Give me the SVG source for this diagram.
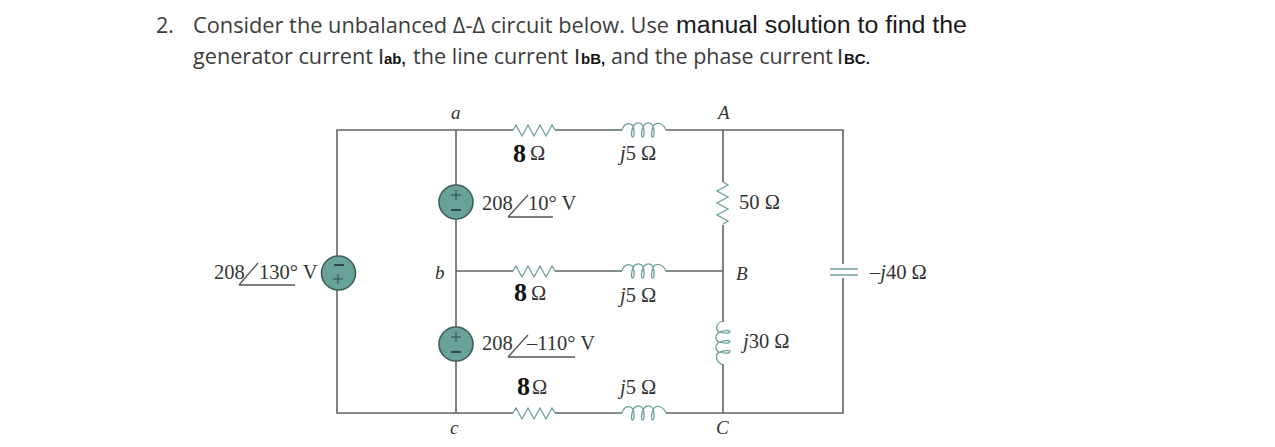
<svg xmlns="http://www.w3.org/2000/svg" width="1275" height="447" viewBox="0 0 1275 447">
<style>
.w{fill:none;stroke:#5f6566;stroke-width:1.6}
.el{fill:none;stroke:#6d9f9c;stroke-width:1.3}
.src{fill:#68a298;stroke:#3f5f5a;stroke-width:1.6}
.pm{fill:none;stroke:#2f4a46}
.ang{fill:none;stroke:#555;stroke-width:1.3}
.q{font-family:"Open Sans",sans-serif;font-size:21.5px;fill:#3c3c3c}
.b{font-family:"Liberation Sans",Arial,sans-serif;font-size:23.5px;fill:#1a1a1a}
.I{font-family:"Liberation Sans",Arial,sans-serif;font-size:22px;fill:#333}
.s{font-family:"Liberation Sans",Arial,sans-serif;font-size:15px;fill:#111;font-weight:bold}
.t{font-family:"Liberation Serif",serif;font-size:20.5px;fill:#333}
.n{font-family:"Liberation Serif",serif;font-size:19px;fill:#333;font-style:italic}
.i{font-style:italic}
.bd{font-weight:bold;font-size:26px;fill:#111}
</style>
<defs>
<path id="res" class="el" d="M0 0 L3 -5 L9 6 L15 -5 L21 6 L27 -5 L33 6 L39 -5 L42 0"/>
<path id="ind" class="el" d="M0 0 C2 -7 8 -8 11 -4 C13 2 12 7 10.500 7 C9 7 9 0 12 -5 C15 -8 19 -8 21 -4 C23 2 22 7 20.500 7 C19 7 19 0 22 -5 C25 -8 29 -8 31 -4 C33 2 32 7 30.500 7 C29 7 29 0 32 -5 C35 -8 41 -7 44 0"/>
</defs>
<g id="question">
<text class="q" x="156" y="33">2.</text>
<text class="q" x="193" y="33" textLength="476" lengthAdjust="spacingAndGlyphs">Consider the unbalanced Δ-Δ circuit below. Use</text>
<text class="b" x="676" y="33" textLength="291" lengthAdjust="spacingAndGlyphs">manual solution to find the</text>
<text class="q" x="193" y="64" textLength="180" lengthAdjust="spacingAndGlyphs">generator current</text>
<text class="I" x="378" y="64">I</text><text class="s" x="384" y="64">ab,</text>
<text class="q" x="413" y="64" textLength="155" lengthAdjust="spacingAndGlyphs">the line current</text>
<text class="I" x="574" y="64">I</text><text class="s" x="581" y="64">bB,</text>
<text class="q" x="611" y="64" textLength="222" lengthAdjust="spacingAndGlyphs">and the phase current</text>
<text class="I" x="837" y="64">I</text><text class="s" x="844" y="64">BC.</text>
</g>
<g id="connectors">
<path class="w" d="M337 273V130H513M555 130H622M666 130H843V413H666M622 413H555M513 413H337V273"/>
<path class="w" d="M456 130V344M456 271H513M555 271H622M666 271H723"/>
<path class="w" d="M456 344V413"/>
<path class="w" d="M723 130V182M723 225V322M723 364V413"/>
</g>
<g id="R_aA"><use href="#res" x="513" y="130"/><text class="t bd" x="513" y="162">8</text><text class="t" x="530" y="160">Ω</text></g>
<g id="L_aA"><use href="#ind" x="622" y="130"/><text class="t" x="620" y="160"><tspan class="i">j</tspan>5 Ω</text></g>
<g id="R_bB"><use href="#res" x="513" y="271"/><text class="t bd" x="514" y="301">8</text><text class="t" x="531" y="300">Ω</text></g>
<g id="L_bB"><use href="#ind" x="622" y="271"/><text class="t" x="620" y="302"><tspan class="i">j</tspan>5 Ω</text></g>
<g id="R_cC"><use href="#res" x="513" y="413"/><text class="t bd" x="517" y="395">8</text><text class="t" x="532" y="394">Ω</text></g>
<g id="L_cC"><use href="#ind" x="622" y="413"/><text class="t" x="620" y="394"><tspan class="i">j</tspan>5 Ω</text></g>
<g id="R_AB"><use href="#res" transform="translate(723 182) rotate(90)"/><text class="t" x="739" y="209">50 Ω</text></g>
<g id="L_BC"><use href="#ind" transform="translate(723 321) rotate(90) scale(1 -1)"/><text class="t" x="743" y="348"><tspan class="i">j</tspan>30 Ω</text></g>
<g id="C_CA"><rect x="828" y="264" width="30" height="14" fill="#fff"/><path class="el" style="stroke-width:1.6" d="M830 269H858M830 275H858"/><text class="t" x="870" y="279">–<tspan class="i">j</tspan>40 Ω</text></g>
<g id="V_ab"><circle class="src" cx="456" cy="202" r="17"/><path class="pm" d="M451 195H461M456 190V200"/><path class="pm" style="stroke-width:2" d="M451 210H461"/><text class="t" x="482" y="210">208</text><path class="ang" d="M508 217L528 195M508 217H553"/><text class="t" x="528" y="210">10° V</text></g>
<g id="V_bc"><circle class="src" cx="456" cy="344" r="17"/><path class="pm" d="M451 337H461M456 332V342"/><path class="pm" style="stroke-width:2" d="M451 352H461"/><text class="t" x="482" y="350">208</text><path class="ang" d="M508 357L528 335M508 357H575"/><text class="t" x="527" y="350">–110° V</text></g>
<g id="V_ca"><circle class="src" cx="338.500" cy="273" r="17"/><path class="pm" style="stroke-width:2" d="M334 265H344"/><path class="pm" d="M333 279H343M338 274V284"/><text class="t" x="214" y="279">208</text><path class="ang" d="M239 285L258 263M239 285H295"/><text class="t" x="259" y="279">130° V</text></g>
<g id="labels">
<text class="n" x="451" y="119">a</text>
<text class="n" x="435" y="279">b</text>
<text class="n" x="450" y="434">c</text>
<text class="n" x="718" y="119">A</text>
<text class="n" x="736" y="280">B</text>
<text class="n" x="716" y="434">C</text>
</g>
</svg>
